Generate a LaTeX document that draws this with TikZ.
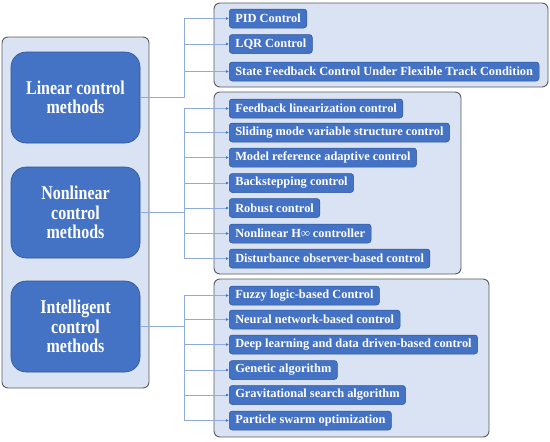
\documentclass[tikz,border=0pt]{standalone}
\usepackage{fontspec}
\setmainfont{Liberation Serif}
\newfontfamily\narrowserif[FakeStretch=0.82]{Liberation Serif}
\usetikzlibrary{arrows.meta,positioning}
\definecolor{boxblue}{HTML}{4472C4}
\definecolor{boxedge}{HTML}{2F5597}
\definecolor{panelfill}{HTML}{DAE3F3}
\definecolor{paneledge}{HTML}{5A5A5A}
\definecolor{linkblue}{HTML}{8FAADC}
\begin{document}
\begin{tikzpicture}[x=1pt,y=-1pt,
  panel/.style={draw=paneledge,line width=0.9pt,fill=panelfill,rounded corners=6pt},
  mainbox/.style={draw=boxedge,line width=0.6pt,fill=boxblue,rounded corners=15pt,
     text=white,font=\narrowserif\fontsize{19.5}{19.5}\selectfont\bfseries,align=center,
     minimum width=129pt,minimum height=91pt,inner sep=0pt},
  item/.style={draw=boxedge,line width=0.5pt,fill=boxblue,rounded corners=3pt,
     text=white,font=\fontsize{12.4}{13}\selectfont\bfseries,anchor=west,
     minimum height=19pt,inner xsep=6pt,inner ysep=0pt},
  link/.style={draw=linkblue,line width=0.6pt},
  arrowlink/.style={link,-{Latex[length=3pt,width=3pt,color=boxblue]}}
]
\useasboundingbox (0,0) rectangle (550,442);
% panels
\draw[panel] (2,37) rectangle (149,388);
\draw[panel] (214,3) rectangle (548,87);
\draw[panel] (214,92) rectangle (461,274);
\draw[panel] (214,279) rectangle (489,437);
% main boxes
\node[mainbox] (lin) at (75.5,97.5) {Linear control\\methods};
\node[mainbox] (non) at (75.5,212.5) {Nonlinear\\control\\methods};
\node[mainbox] (int) at (75.5,326.5) {Intelligent\\control\\methods};
% items
\node[item] (i1) at (229,18.5) {PID Control};
\node[item] (i2) at (229,44) {LQR Control};
\node[item] (i3) at (229,71.5) {State Feedback Control Under Flexible Track Condition};
\node[item] (n1) at (229,108.5) {Feedback linearization control};
\node[item] (n2) at (229,132.5) {Sliding mode variable structure control};
\node[item] (n3) at (229,157.5) {Model reference adaptive control};
\node[item] (n4) at (229,183) {Backstepping control};
\node[item] (n5) at (229,208) {Robust control};
\node[item] (n6) at (229,233.5) {Nonlinear H∞ controller};
\node[item] (n7) at (229,258.5) {Disturbance observer-based control};
\node[item] (g1) at (229,295.5) {Fuzzy logic-based Control};
\node[item] (g2) at (229,319.5) {Neural network-based control};
\node[item] (g3) at (229,344.5) {Deep learning and data driven-based control};
\node[item] (g4) at (229,370) {Genetic algorithm};
\node[item] (g5) at (229,395) {Gravitational search algorithm};
\node[item] (g6) at (229,420.5) {Particle swarm optimization};
% junctions
\coordinate (jl) at (184,97.5);
\coordinate (jn) at (184,212.5);
\coordinate (ji) at (184,326.5);
\draw[link] (lin.east) -- (jl);
\draw[link] (non.east) -- (jn);
\draw[link] (int.east) -- (ji);
\foreach \t in {i1,i2,i3} \draw[arrowlink] (jl) |- (\t.west);
\foreach \t in {n1,n2,n3,n4,n5,n6,n7} \draw[arrowlink] (jn) |- (\t.west);
\foreach \t in {g1,g2,g3,g4,g5,g6} \draw[arrowlink] (ji) |- (\t.west);
\end{tikzpicture}
\end{document}
